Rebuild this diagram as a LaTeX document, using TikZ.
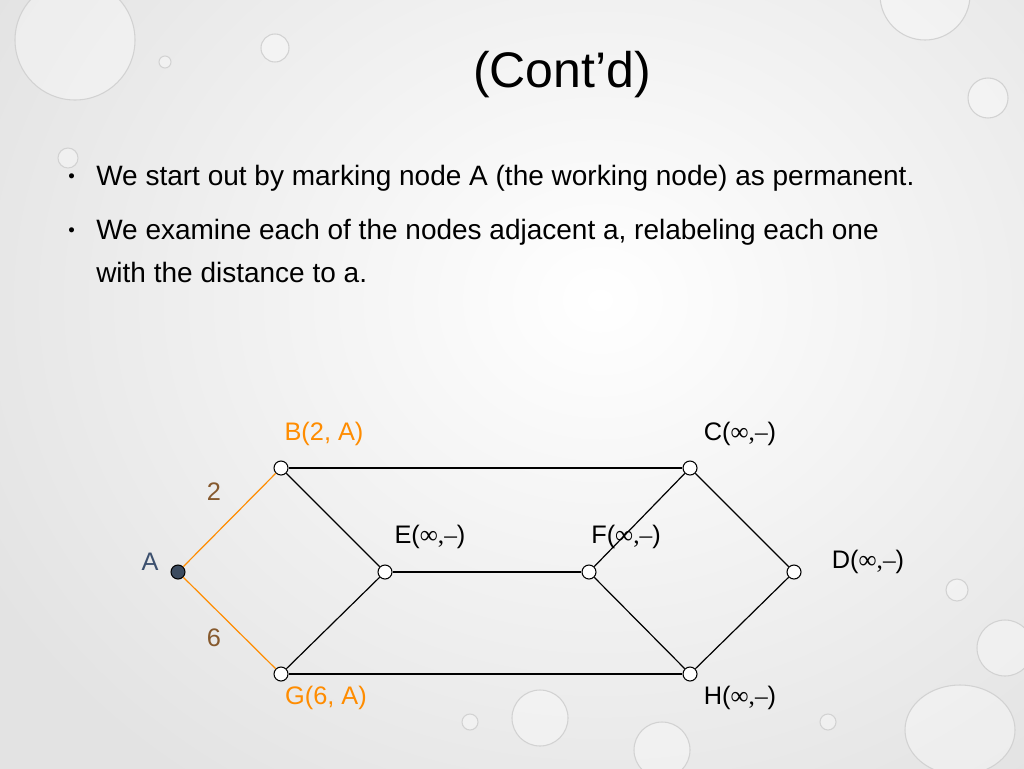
\documentclass[tikz,border=0pt]{standalone}
\usepackage{fontspec}
\setmainfont{Liberation Sans}
\newfontfamily\serf{Liberation Serif}
\begin{document}
\begin{tikzpicture}[x=0.75pt,y=-0.75pt,
  vtx/.style={circle,draw=black,fill=white,inner sep=0pt,minimum size=10.5pt,line width=0.8pt},
  edge/.style={line width=0.9pt,draw=black},
  oedge/.style={line width=0.9pt,draw=orange!90!yellow},
  lbl/.style={font=\fontsize{19}{22}\selectfont,inner sep=0pt},
  btxt/.style={anchor=west,font=\fontsize{21}{25}\selectfont,inner sep=0pt},
  drop/.style={draw=gray!35,fill=white,fill opacity=0.35,line width=0.8pt}]
\useasboundingbox (0,0) rectangle (1024,768);
\fill[gray!22] (0,0) rectangle (1024,768);
\shade[inner color=white,outer color=gray!22] (-100,-300) rectangle (1300,900);
% drops
\draw[drop] (75,40) circle (60);
\draw[drop] (275,48) circle (14);
\draw[drop] (165,62) circle (6);
\draw[drop] (988,98) circle (20);
\draw[drop] (925,-5) circle (45);
\draw[drop] (957,590) circle (11);
\draw[drop] (1005,648) circle (28);
\draw[drop] (960,730) ellipse (55 and 45);
\draw[drop] (540,718) circle (28);
\draw[drop] (662,750) circle (28);
\draw[drop] (470,722) circle (8);
\draw[drop] (828,722) circle (8);
\draw[drop] (68,158) circle (10);
% text
\node[font=\fontsize{37.5}{44}\selectfont] (title) at (562,75) {(Cont’d)};
\node[btxt] (d1) at (68,178) {\fontsize{14}{14}\selectfont\textbullet};
\node[btxt] (b1) at (96,178) {We start out by marking node A (the working node) as permanent.};
\node[btxt] (d2) at (68,232) {\fontsize{14}{14}\selectfont\textbullet};
\node[btxt] (b2) at (96,232) {We examine each of the nodes adjacent a, relabeling each one};
\node[btxt] (b3) at (96,272) {with the distance to a.};
% graph
\node[vtx,fill={rgb,255:red,60;green,75;blue,95}] (A) at (178,572) {};
\node[vtx] (B) at (281,468) {};
\node[vtx] (G) at (281,674) {};
\node[vtx] (E) at (385,572) {};
\node[vtx] (F) at (589,572) {};
\node[vtx] (C) at (690,468) {};
\node[vtx] (H) at (690,674) {};
\node[vtx] (D) at (794,572) {};
\draw[oedge] (A)--(B); \draw[oedge] (A)--(G);
\draw[edge] (B)--(C); \draw[edge] (B)--(E); \draw[edge] (G)--(E);
\draw[edge] (G)--(H); \draw[edge] (E)--(F); \draw[edge] (F)--(C);
\draw[edge] (F)--(H); \draw[edge] (C)--(D); \draw[edge] (H)--(D);
\node[lbl,text=orange!90!yellow] (lB) at (324,434) {B(2, A)};
\node[lbl,text=orange!90!yellow] (lG) at (326,698) {G(6, A)};
\node[lbl,text={rgb,255:red,60;green,80;blue,110}] (lA) at (150,562) {A};
\node[lbl,text=brown!70!black] (w2) at (214,492) {2};
\node[lbl,text=brown!70!black] (w6) at (214,638) {6};
\node[lbl] (lE) at (430,537) {E({\serf ∞,–})};
\node[lbl] (lF) at (626,537) {F({\serf ∞,–})};
\node[lbl] (lC) at (740,434) {C({\serf ∞,–})};
\node[lbl] (lD) at (868,562) {D({\serf ∞,–})};
\node[lbl] (lH) at (740,698) {H({\serf ∞,–})};
\end{tikzpicture}
\end{document}
